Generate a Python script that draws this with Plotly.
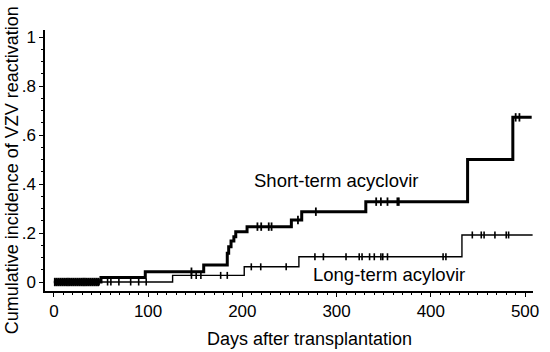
import numpy as np
import plotly.graph_objects as go

# Short-term acyclovir (thick curve): step times (days) and cumulative incidence after each step
short_days = [0, 50, 97, 159, 184, 185.5, 188, 191, 193, 205, 252, 263, 331, 439, 487, 507]
short_vals = [0, 0.018, 0.042, 0.069, 0.117, 0.144, 0.167, 0.185, 0.205, 0.226, 0.253, 0.287, 0.328, 0.50, 0.672, 0.672]
short_censor = [1, 3, 5, 7, 9, 11, 13, 15, 17, 19, 21, 23, 25, 27, 29, 31, 33, 35, 37, 39, 41, 43, 45, 47,
                146, 216, 220, 228, 231, 259, 278, 342, 347, 354, 364.5, 366, 490, 494]

# Long-term acyclovir (thin curve)
long_days = [0, 126, 202, 260, 433, 508]
long_vals = [0, 0.027, 0.062, 0.103, 0.192, 0.192]
long_censor = [2, 4, 6, 8, 10, 12, 14, 16, 18, 20, 22, 24, 26, 28, 30, 32, 34, 36, 38, 40, 42, 44, 46, 48,
               57, 60.5, 69, 81.5, 90, 98, 146, 151, 156, 177, 184, 209.5, 219.5, 246.5,
               277, 286, 310, 324, 327, 335, 340, 347, 349, 354, 413, 416,
               444, 453.5, 456.5, 468, 480, 482.5]

y_tickvals = [0, 0.2, 0.4, 0.6, 0.8, 1]
y_ticktext = ["0", ".2", ".4", ".6", ".8", "1"]
x_tickvals = [0, 100, 200, 300, 400, 500]


def step_at(days, vals, t):
    idx = np.searchsorted(np.array(days), np.array(t), side="right") - 1
    return np.array(vals)[idx]


FONT = "Arial, Liberation Sans, Helvetica, sans-serif"

fig = go.Figure()
fig.add_trace(go.Scatter(x=long_days, y=long_vals, mode="lines", line=dict(shape="hv", color="black", width=1.4),
                         hoverinfo="skip", showlegend=False))
fig.add_trace(go.Scatter(x=long_censor, y=step_at(long_days, long_vals, long_censor), mode="markers",
                         marker=dict(symbol="line-ns", size=5, line=dict(width=1.6, color="black")),
                         showlegend=False))
fig.add_trace(go.Scatter(x=short_days, y=short_vals, mode="lines", line=dict(shape="hv", color="black", width=3),
                         hoverinfo="skip", showlegend=False))
fig.add_trace(go.Scatter(x=short_censor, y=step_at(short_days, short_vals, short_censor), mode="markers",
                         marker=dict(symbol="line-ns", size=6, line=dict(width=1.8, color="black")),
                         showlegend=False))

fig.add_annotation(x=299, y=0.416, text="Short-term acyclovir", showarrow=False,
                   font=dict(size=18.5, color="black", family=FONT), xanchor="center", yanchor="middle")
fig.add_annotation(x=356, y=0.029, text="Long-term acylovir", showarrow=False,
                   font=dict(size=18.5, color="black", family=FONT), xanchor="center", yanchor="middle")
fig.add_annotation(xref="paper", yref="paper", x=0.5415, y=-0.184, text="Days after transplantation",
                   showarrow=False, font=dict(size=18, color="black", family=FONT),
                   xanchor="center", yanchor="middle")
fig.add_annotation(xref="paper", yref="paper", x=-0.067, y=0.4636, text="Cumulative incidence of VZV reactivation",
                   showarrow=False, textangle=-90, font=dict(size=18, color="black", family=FONT),
                   xanchor="center", yanchor="middle")

fig.update_layout(
    width=550, height=352,
    margin=dict(l=45, r=11, t=30, b=61, pad=0),
    paper_bgcolor="white", plot_bgcolor="white",
    font=dict(family=FONT, color="black", size=17),
    xaxis=dict(range=[-9.4, 508.4], showgrid=False, zeroline=False, showline=True, linecolor="black",
               linewidth=1.5, ticks="outside", ticklen=4, tickwidth=1, tickcolor="black",
               tickmode="array", tickvals=x_tickvals, tickfont=dict(size=17),
               minor=dict(tickmode="linear", tick0=0, dtick=10, ticks="outside", ticklen=2.5,
                          tickcolor="black", tickwidth=1)),
    yaxis=dict(range=[-0.0367, 1.0286], showgrid=False, zeroline=False, showline=True, linecolor="black",
               linewidth=1.5, ticks="outside", ticklen=4, tickwidth=1, tickcolor="black",
               tickmode="array", tickvals=y_tickvals, ticktext=y_ticktext, tickfont=dict(size=17),
               minor=dict(tickmode="linear", tick0=0, dtick=0.05, ticks="outside", ticklen=2.5,
                          tickcolor="black", tickwidth=1)),
)

fig.write_html("out.html", config={"displayModeBar": False},
               post_script="document.body.style.margin='0px';")
